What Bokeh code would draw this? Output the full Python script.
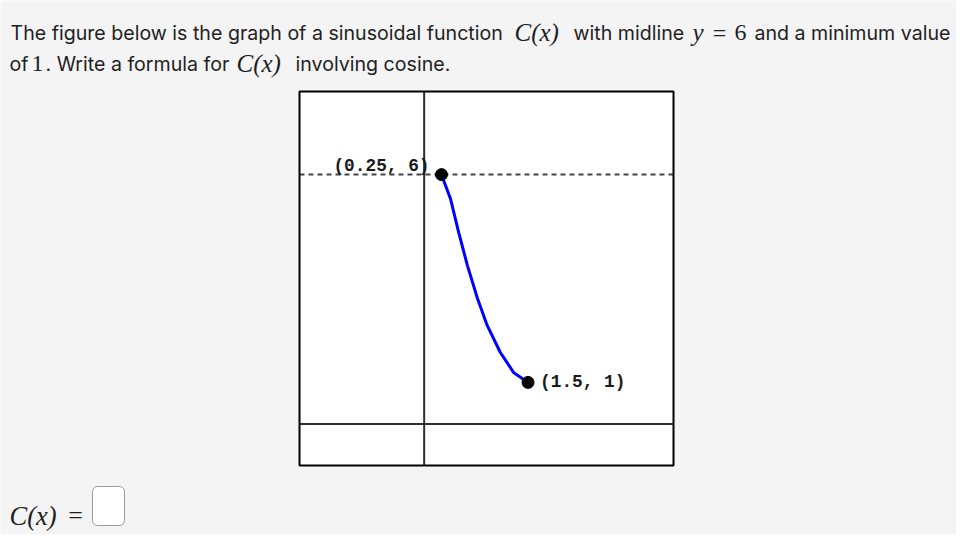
from bokeh.plotting import figure
from bokeh.models import Range1d
from bokeh.core.properties import value
from bokeh.embed import file_html
from bokeh.resources import INLINE

# ---- data ----
curve_x = [0.25, 0.38, 0.5, 0.625, 0.77, 0.91, 1.1, 1.29, 1.5]
curve_y = [6.0, 5.42, 4.6, 3.81, 3.02, 2.37, 1.72, 1.24, 1.0]
point_x = [0.25, 1.5]
point_y = [6, 1]
point_labels = ["(0.25, 6)", "(1.5, 1)"]
midline = 6
x_limits = [-1.8, 3.6]
y_limits = [-1.0, 8.0]

BG = "#f4f4f4"
INK = "#1f1f1f"
SANS = "Inter"
SERIF = "Liberation Serif"
MONO = "Liberation Mono"

W, H = 956, 534             # canvas
BOX = (299, 673, 91, 465)   # chart frame in canvas pixels: left, right, top, bottom

# pixel ranges (y grows downward) for the surrounding text
p = figure(width=W, height=H, x_range=Range1d(0, W), y_range=Range1d(H, 0),
           x_axis_type=None, y_axis_type=None, toolbar_location=None, output_backend="svg",
           min_border=0)
p.background_fill_color = BG
p.border_fill_color = BG
p.outline_line_color = None
p.grid.visible = False

# chart ranges placed so that the chart limits fall on the box
ppx = (BOX[1] - BOX[0]) / (x_limits[1] - x_limits[0])
ppy = (BOX[3] - BOX[2]) / (y_limits[1] - y_limits[0])
p.extra_x_ranges = {"c": Range1d(x_limits[0] - BOX[0] / ppx,
                                 x_limits[1] + (W - BOX[1]) / ppx)}
p.extra_y_ranges = {"c": Range1d(y_limits[0] - (H - BOX[3]) / ppy,
                                 y_limits[1] + BOX[2] / ppy)}
C = dict(x_range_name="c", y_range_name="c")

# chart frame
p.quad(left=[x_limits[0]], right=[x_limits[1]], bottom=[y_limits[0]], top=[y_limits[1]],
       fill_color="white", line_color=None, **C)
# axes through the origin
p.segment(x0=[0, x_limits[0]], y0=[y_limits[0], 0], x1=[0, x_limits[1]], y1=[y_limits[1], 0],
          line_color="#2e2e2e", line_width=2, **C)
# midline
p.segment(x0=[x_limits[0]], y0=[midline], x1=[x_limits[1]], y1=[midline],
          line_color="#444444", line_width=2, line_dash="5 4", **C)
# outline
p.quad(left=[x_limits[0]], right=[x_limits[1]], bottom=[y_limits[0]], top=[y_limits[1]],
       fill_color=None, line_color="black", line_width=2, **C)

p.line(curve_x, curve_y, line_color="#0000ff", line_width=3, **C)
p.scatter(point_x, point_y, size=12, color="black", **C)
p.text(point_x[:1], point_y[:1], text=point_labels[:1], x_offset=-12, y_offset=-9,
       text_align="right", text_baseline="alphabetic",
       text_font=value(MONO), text_font_style="bold",
       text_font_size="17.8px", text_color="#1a1a1a", **C)
p.text(point_x[1:], point_y[1:], text=point_labels[1:], x_offset=12, y_offset=0,
       text_align="left", text_baseline="middle",
       text_font=value(MONO), text_font_style="bold",
       text_font_size="17.8px", text_color="#1a1a1a", **C)

# ---- question text (canvas pixel coordinates) ----
sans_x = [10, 573, 754, 9, 45, 295]
sans_y = [32, 32, 32, 63, 63, 63]
sans_t = ["The figure below is the graph of a sinusoidal function", "with midline",
          "and a minimum value", "of", ". Write a formula for", "involving cosine."]
p.text(sans_x, sans_y, text=sans_t, text_font=value(SANS), text_font_size="19.6px",
       text_color=INK, text_baseline="alphabetic")

ital_x = [514, 692, 236]
ital_y = [32, 32, 63]
ital_t = ["C(x)", "y", "C(x)"]
p.text(ital_x, ital_y, text=ital_t, text_font=value(SERIF), text_font_style="italic",
       text_font_size="25px", text_color=INK, text_baseline="alphabetic")

math_x = [719, 740, 37]
math_y = [32, 32, 63]
math_t = ["=", "6", "1"]
p.text(math_x, math_y, text=math_t, text_font=value(SERIF), text_font_size="24px",
       text_color=INK, text_baseline="alphabetic", text_align="center")

p.text([9], [515], text=["C(x)"], text_font=value(SERIF), text_font_style="italic",
       text_font_size="26.5px", text_color=INK, text_baseline="alphabetic")
p.text([75], [515], text=["="], text_font=value(SERIF), text_font_size="26px",
       text_color=INK, text_baseline="alphabetic", text_align="center")

# answer box
p.quad(left=[92], right=[124], top=[486], bottom=[525], fill_color="white",
       line_color="#9a9a9a", line_width=1, border_radius=5)

open("out.html", "w").write(file_html(p, INLINE))
